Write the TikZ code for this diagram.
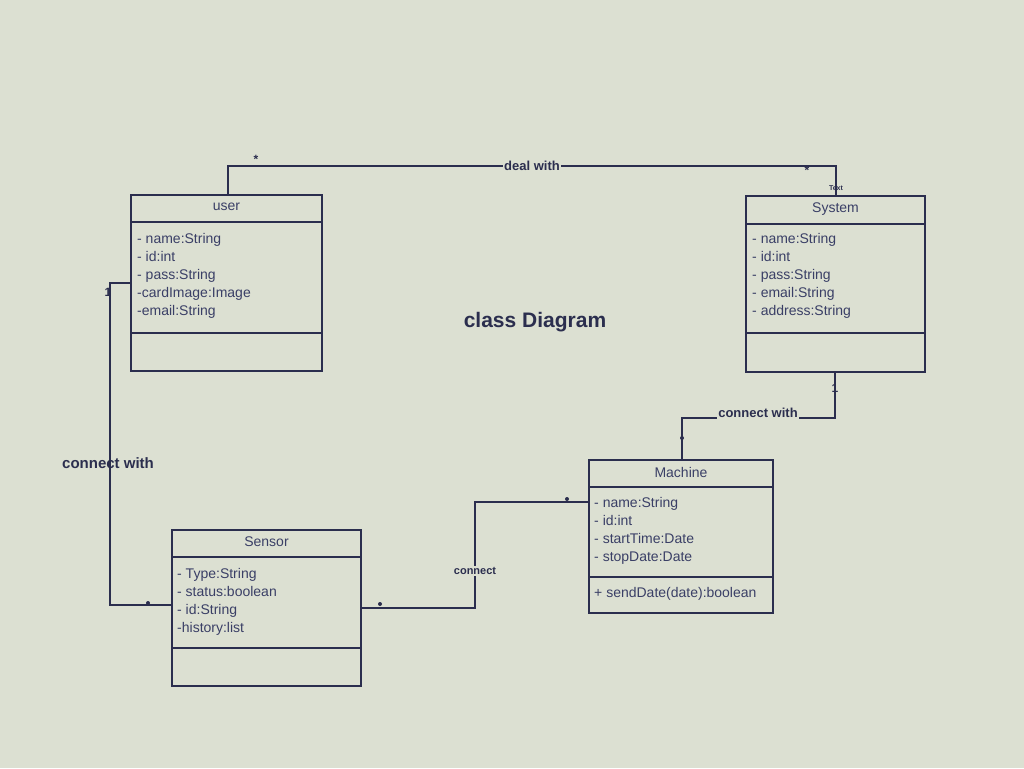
\documentclass[tikz,border=0pt]{standalone}
\usepackage{fontspec}
\setmainfont{Liberation Sans}
\definecolor{bg}{HTML}{DCE0D2}
\definecolor{ln}{HTML}{2B2E4E}
\definecolor{tx}{HTML}{3A3F66}
\begin{document}
\begin{tikzpicture}[x=1pt,y=-1pt,
  box/.style={draw=ln,line width=1.4pt},
  attr/.style={anchor=north west,inner sep=0pt,text=tx,font=\fontsize{14}{18}\selectfont,align=left},
  ttl/.style={text=tx,font=\fontsize{14}{16}\selectfont},
  conn/.style={draw=ln,line width=1.3pt},
  lab/.style={fill=bg,inner sep=1pt,text=ln,font=\bfseries\fontsize{13}{15}\selectfont},
  mult/.style={text=ln,inner sep=0pt,font=\bfseries\fontsize{12}{13}\selectfont}]
\fill[bg] (0,0) rectangle (1024,768);
\useasboundingbox (0,0) rectangle (1024,768);
% user
\draw[box] (131,195) rectangle (322,371); \draw[box] (131,222)--(322,222); \draw[box] (131,333)--(322,333);
\node[ttl] (userT) at (226.5,207) {user};
\node[attr] (userA) at (137,233) {- name:String\\- id:int\\- pass:String\\-cardImage:Image\\-email:String};
\coordinate (userTop) at (228,195); \coordinate (userL) at (131,283);
% system
\draw[box] (746,196) rectangle (925,372); \draw[box] (746,224)--(925,224); \draw[box] (746,333)--(925,333);
\node[ttl] (sysT) at (835.5,209) {System};
\node[attr] (sysA) at (752,233) {- name:String\\- id:int\\- pass:String\\- email:String\\- address:String};
\coordinate (sysTop) at (836,196); \coordinate (sysB) at (835,372);
% machine
\draw[box] (589,460) rectangle (773,613); \draw[box] (589,487)--(773,487); \draw[box] (589,577)--(773,577);
\node[ttl] (macT) at (681,472) {Machine};
\node[attr] (macA) at (594,497) {- name:String\\- id:int\\- startTime:Date\\- stopDate:Date};
\node[attr] (macM) at (594,587) {+ sendDate(date):boolean};
\coordinate (macTop) at (682,460); \coordinate (macL) at (589,502);
% sensor
\draw[box] (172,530) rectangle (361,686); \draw[box] (172,557)--(361,557); \draw[box] (172,648)--(361,648);
\node[ttl] (senT) at (266.5,542) {Sensor};
\node[attr] (senA) at (177,568) {- Type:String\\- status:boolean\\- id:String\\-history:list};
\coordinate (senL) at (172,605); \coordinate (senR) at (361,608);
% title
\node[text=ln,font=\bfseries\fontsize{21}{24}\selectfont] (title) at (535,322) {class Diagram};
% connectors
\draw[conn] (userTop) |- (836,166) -- (sysTop);
\node[lab] (dw) at (532,166) {deal with};
\node[mult] (m1) at (256,159) {*}; \node[mult] (m2) at (807,170) {*};
\node[text=ln,inner sep=0pt,font=\bfseries\fontsize{7}{8}\selectfont] (txt) at (836,188) {Text};
\draw[conn] (sysB) |- (682,418) -- (macTop);
\node[lab] (cw1) at (758,413) {connect with};
\node[mult] (m3) at (835,388) {1}; \fill[ln] (682,438) circle (2);
\draw[conn] (userL) -| (110,605) -- (senL);
\node[lab,fill=none,font=\bfseries\fontsize{15}{17}\selectfont] (cw2) at (108,463) {connect with};
\node[mult] (m4) at (108,292) {1}; \fill[ln] (148,603) circle (2);
\draw[conn] (senR) -| (475,502) -- (macL);
\node[lab,font=\bfseries\fontsize{11}{13}\selectfont] (cn) at (475,571) {connect};
\fill[ln] (380,604) circle (2); \fill[ln] (567,499) circle (2);
\end{tikzpicture}
\end{document}
